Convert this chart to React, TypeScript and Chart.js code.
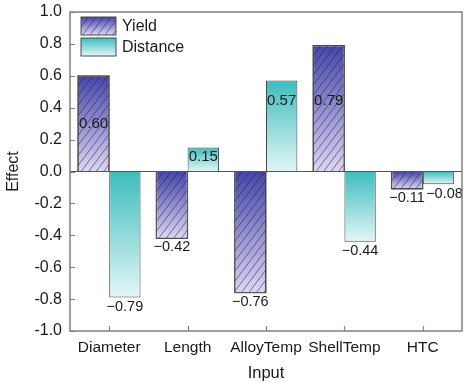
import React, { useEffect, useRef } from "react";
import { Chart, registerables } from "chart.js";
Chart.register(...registerables);

const categories = ["Diameter", "Length", "AlloyTemp", "ShellTemp", "HTC"];
const yieldValues = [0.6, -0.42, -0.76, 0.79, -0.11];
const distanceValues = [-0.79, 0.15, 0.57, -0.44, -0.08];
const seriesNames = ["Yield", "Distance"];
const yTicks = [1.0, 0.8, 0.6, 0.4, 0.2, 0.0, -0.2, -0.4, -0.6, -0.8, -1.0];

const FONT = "'Liberation Sans', Arial, sans-serif";
const yieldTop = "#4646aa";
const yieldBot = "#ddd7f3";
const distTop = "#3dbdbd";
const distBot = "#e4f6f6";
const borderCol = "#4a4a4a";
const frameCol = "#808080";

// label position for positive values: fraction of bar height measured from base
const posLabelFrac = [[0.5, 0, 0, 0.56, 0], [0, 0.6, 0.78, 0, 0]];

function grad(c: CanvasRenderingContext2D, top: number, bot: number, a: string, b: string) {
  const g = c.createLinearGradient(0, top, 0, bot);
  g.addColorStop(0, a);
  g.addColorStop(1, b);
  return g;
}

function hatch(c: CanvasRenderingContext2D, x0: number, y0: number, x1: number, y1: number) {
  c.save();
  c.beginPath();
  c.rect(x0, y0, x1 - x0, y1 - y0);
  c.clip();
  c.strokeStyle = "rgba(35,35,70,0.7)";
  c.lineWidth = 0.8;
  const h = y1 - y0;
  const dx = h * 0.75;
  const sp = 7.5;
  c.beginPath();
  for (let k = x0 - dx - sp; k < x1 + sp; k += sp) {
    c.moveTo(k, y1);
    c.lineTo(k + dx, y0);
  }
  c.stroke();
  c.restore();
}

const customPlugin = {
  id: "custom",
  afterDatasetsDraw(chart: any) {
    const c = chart.ctx as CanvasRenderingContext2D;
    const ys = chart.scales.y;
    const xs = chart.scales.x;
    const ca = chart.chartArea;
    // hatch yield bars
    const meta0 = chart.getDatasetMeta(0);
    meta0.data.forEach((el: any) => {
      const x0 = el.x - el.width / 2;
      const x1 = el.x + el.width / 2;
      const top = Math.min(el.y, el.base);
      const bot = Math.max(el.y, el.base);
      hatch(c, x0, top, x1, bot);
      c.save();
      c.strokeStyle = borderCol;
      c.lineWidth = 1;
      c.strokeRect(x0, top, x1 - x0, bot - top);
      c.restore();
    });
    // zero line
    const z = ys.getPixelForValue(0);
    c.save();
    c.strokeStyle = "#555555";
    c.lineWidth = 1.2;
    c.beginPath();
    c.moveTo(ca.left, z);
    c.lineTo(ca.right, z);
    c.stroke();
    c.restore();
    // value labels
    [yieldValues, distanceValues].forEach((vals, di) => {
      const meta = chart.getDatasetMeta(di);
      vals.forEach((v, i) => {
        const el = meta.data[i];
        c.save();
        c.fillStyle = "#1a1a1a";
        c.textAlign = "center";
        c.textBaseline = "middle";
        if (v >= 0) {
          c.font = `15px ${FONT}`;
          const f = posLabelFrac[di][i] || 0.5;
          const py = el.base + (el.y - el.base) * f;
          c.fillText(v.toFixed(2), el.x, py);
        } else {
          c.font = `14.5px ${FONT}`;
          const shift = di === 1 && i === 4;
          const py = el.y + (shift ? 10 : 9);
          c.fillText("\u2212" + Math.abs(v).toFixed(2), el.x + (shift ? 6 : 0), py);
        }
        c.restore();
      });
    });
    // frame
    c.save();
    c.strokeStyle = frameCol;
    c.lineWidth = 1.5;
    c.strokeRect(ca.left, ca.top, ca.right - ca.left, ca.bottom - ca.top);
    // ticks inward
    c.lineWidth = 1.2;
    c.beginPath();
    yTicks.forEach((t) => {
      const p = Math.round(ys.getPixelForValue(t)) + 0.5;
      c.moveTo(ca.left, p);
      c.lineTo(ca.left + 5, p);
    });
    categories.forEach((_, i) => {
      const p = Math.round(xs.getPixelForValue(i)) + 0.5;
      c.moveTo(p, ca.bottom);
      c.lineTo(p, ca.bottom - 5);
    });
    c.stroke();
    c.restore();
    // legend
    const lx = 81, lw = 35, lh = 18;
    const rows = [17, 38];
    rows.forEach((ry, di) => {
      c.save();
      c.fillStyle = di === 0 ? grad(c, ry, ry + lh, yieldTop, yieldBot) : grad(c, ry, ry + lh, distTop, distBot);
      c.fillRect(lx, ry, lw, lh);
      if (di === 0) hatch(c, lx, ry, lx + lw, ry + lh);
      c.strokeStyle = borderCol;
      c.lineWidth = 1;
      c.strokeRect(lx, ry, lw, lh);
      c.fillStyle = "#1a1a1a";
      c.font = `16px ${FONT}`;
      c.textAlign = "left";
      c.textBaseline = "middle";
      c.fillText(seriesNames[di], lx + lw + 6, ry + lh / 2 + 1);
      c.restore();
    });
  },
};

function barGradient(top: string, bot: string) {
  return (ctx: any) => {
    const chart = ctx.chart;
    if (!chart.chartArea || ctx.type !== "data") return top;
    const ys = chart.scales.y;
    const v = ctx.parsed ? ctx.parsed.y : 0;
    const p0 = ys.getPixelForValue(0);
    const p1 = ys.getPixelForValue(v);
    const a = Math.min(p0, p1);
    const b = Math.max(p0, p1);
    if (b - a < 1) return top;
    return grad(chart.ctx, a, b, top, bot);
  };
}

export default function App() {
  const ref = useRef<HTMLCanvasElement>(null);
  useEffect(() => {
    document.body.style.margin = "0";
    const chart = new Chart(ref.current!, {
      type: "bar",
      data: {
        labels: categories,
        datasets: [
          {
            label: seriesNames[0],
            data: yieldValues,
            backgroundColor: barGradient(yieldTop, yieldBot) as any,
            borderColor: borderCol,
            borderWidth: 1,
          },
          {
            label: seriesNames[1],
            data: distanceValues,
            backgroundColor: barGradient(distTop, distBot) as any,
            borderColor: borderCol,
            borderWidth: 1,
          },
        ],
      },
      options: {
        responsive: false,
        animation: false,
        layout: { padding: { top: 12, right: 12, left: 0, bottom: 0 } },
        datasets: { bar: { categoryPercentage: 0.8, barPercentage: 1.0 } },
        plugins: { legend: { display: false }, tooltip: { enabled: false } },
        scales: {
          x: {
            grid: { display: false, drawTicks: false },
            border: { display: false },
            ticks: { color: "#1a1a1a", font: { family: FONT, size: 15.5 }, padding: 7, maxRotation: 0, autoSkip: false },
            title: { display: true, text: "Input", color: "#1a1a1a", font: { family: FONT, size: 16.5 }, padding: { top: 4, bottom: 0 } },
            afterFit: (s: any) => { s.height = 52; s.paddingLeft = 0; s.paddingRight = 0; },
          },
          y: {
            min: -1,
            max: 1,
            grid: { display: false, drawTicks: false },
            border: { display: false },
            afterBuildTicks: (s: any) => { s.ticks = yTicks.map((v) => ({ value: v })); },
            ticks: { color: "#1a1a1a", font: { family: FONT, size: 16 }, padding: 8, callback: (v: any) => Number(v).toFixed(1) },
            title: { display: true, text: "Effect", color: "#1a1a1a", font: { family: FONT, size: 16 }, padding: { top: 4, bottom: 4 } },
            afterFit: (s: any) => { s.width = 70; s.paddingTop = 0; s.paddingBottom = 0; },
          },
        },
      },
      plugins: [customPlugin],
    });
    return () => chart.destroy();
  }, []);
  return <canvas ref={ref} width={474} height={383} style={{ display: "block" }} />;
}
